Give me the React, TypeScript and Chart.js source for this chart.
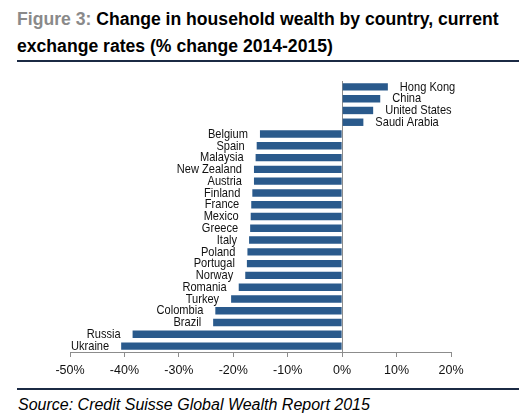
import React, { useEffect, useRef } from 'react';
import { Chart, registerables } from 'chart.js';

Chart.register(...registerables);

const countries = [
  'Hong Kong', 'China', 'United States', 'Saudi Arabia', 'Belgium', 'Spain',
  'Malaysia', 'New Zealand', 'Austria', 'Finland', 'France', 'Mexico', 'Greece',
  'Italy', 'Poland', 'Portugal', 'Norway', 'Romania', 'Turkey', 'Colombia',
  'Brazil', 'Russia', 'Ukraine'
];

const changes = [
  8.4, 7.0, 5.7, 3.9, -15.1, -15.7,
  -15.9, -16.2, -16.2, -16.5, -16.7, -16.8, -16.9,
  -17.1, -17.4, -17.5, -17.8, -19.0, -20.4, -23.3,
  -23.7, -38.5, -40.6
];

const axisMin = -50;
const axisMax = 20;
const axisStep = 10;

const barColor = '#2A5A8C';
const axisColor = '#8C8C8C';
const baseFont = '"Liberation Sans", Arial, sans-serif';
// no narrow font installed, so the labels are squeezed horizontally
const squeeze = 0.82;

// country names next to the bar ends
const barLabels = {
  id: 'barLabels',
  afterDatasetsDraw(chart: Chart) {
    const { ctx } = chart;
    const meta = chart.getDatasetMeta(0);
    ctx.save();
    ctx.font = `13.5px ${baseFont}`;
    ctx.fillStyle = '#111';
    ctx.textBaseline = 'middle';
    meta.data.forEach((bar: any, i: number) => {
      const { x, y } = bar.getProps(['x', 'y'], true);
      const tx = changes[i] >= 0 ? x + 12 : x - 12;
      ctx.save();
      ctx.translate(tx, y);
      ctx.scale(squeeze, 1);
      ctx.textAlign = changes[i] >= 0 ? 'left' : 'right';
      ctx.fillText(countries[i], 0, 0);
      ctx.restore();
    });
    ctx.restore();
  }
};

const BarChart: React.FC = () => {
  const chartRef = useRef<HTMLCanvasElement | null>(null);

  useEffect(() => {
    if (!chartRef.current) return;
    const chart = new Chart(chartRef.current, {
      type: 'bar',
      data: {
        labels: countries,
        datasets: [
          {
            data: changes,
            backgroundColor: barColor,
            barPercentage: 0.63,
            categoryPercentage: 1
          }
        ]
      },
      options: {
        indexAxis: 'y',
        responsive: false,
        animation: false,
        layout: { padding: { top: 21, left: 70, right: 81, bottom: 0 } },
        plugins: {
          legend: { display: false },
          tooltip: { enabled: false }
        },
        scales: {
          y: {
            display: false,
            afterDataLimits: (scale: any) => {
              // small gap between the last bar and the horizontal axis
              scale.max = countries.length - 1 + 0.5;
            }
          },
          x: {
            min: axisMin,
            max: axisMax,
            afterFit: (scale: any) => {
              scale.height = 30;
            },
            border: { display: true, color: axisColor, width: 1 },
            grid: {
              drawOnChartArea: true,
              drawTicks: true,
              tickLength: 5,
              tickColor: axisColor,
              color: (c: any) => (c.tick && c.tick.value === 0 ? axisColor : 'rgba(0,0,0,0)')
            },
            ticks: {
              stepSize: axisStep,
              padding: 6,
              color: '#111',
              font: { family: baseFont, size: 12.5 },
              callback: (v: any) => `${v}%`
            }
          }
        }
      },
      plugins: [barLabels]
    });

    return () => {
      chart.destroy();
    };
  }, []);

  return (
    <canvas
      ref={chartRef}
      width={532}
      height={322}
      style={{ position: 'absolute', left: 0, top: 60, width: 532, height: 322 }}
    />
  );
};

const App: React.FC = () => {
  return (
    <div
      style={{
        position: 'absolute',
        left: 0,
        top: 0,
        width: 532,
        height: 417,
        background: '#fff',
        fontFamily: baseFont,
        overflow: 'hidden'
      }}
    >
      <div
        style={{
          position: 'absolute',
          left: 17,
          top: 6,
          width: 512,
          fontSize: 17.6,
          lineHeight: '26.6px',
          fontWeight: 'bold',
          color: '#000'
        }}
      >
        <span style={{ color: '#8A8A8A' }}>Figure 3: </span>
        Change in household wealth by country, current exchange rates (% change 2014-2015)
      </div>
      <div style={{ position: 'absolute', left: 17, top: 60, width: 502, height: 1.5, background: '#1B2A44' }} />
      <BarChart />
      <div style={{ position: 'absolute', left: 17, top: 388, width: 502, height: 1.5, background: '#1B2A44' }} />
      <div
        style={{
          position: 'absolute',
          left: 18,
          top: 395.5,
          fontSize: 16,
          lineHeight: '18px',
          fontStyle: 'italic',
          color: '#000',
          whiteSpace: 'nowrap'
        }}
      >
        Source: Credit Suisse Global Wealth Report 2015
      </div>
    </div>
  );
};

export default App;
